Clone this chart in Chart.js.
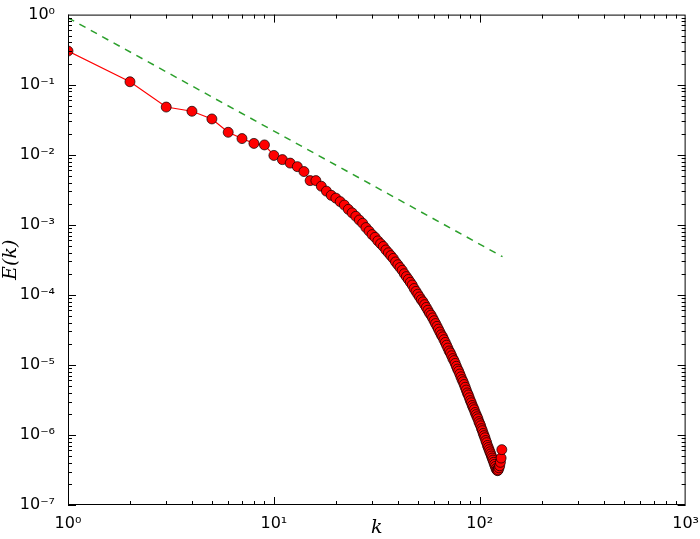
<!DOCTYPE html>
<html><head><meta charset="utf-8">
<script src="https://cdn.jsdelivr.net/npm/chart.js@4/dist/chart.umd.min.js"></script>
<style>html,body{margin:0;padding:0;background:#fff}#wrap{width:700px;height:539px}</style>
</head><body><div id="wrap"><canvas id="c"></canvas></div>
<script>
const energy = [0.302,0.110,0.0479,0.0417,0.0324,0.0209,0.0170,0.0145,0.0138,9.77e-3,
8.51e-3,7.59e-3,6.76e-3,5.75e-3,4.27e-3,4.27e-3,3.55e-3,3.02e-3,2.63e-3,2.40e-3,
2.14e-3,1.91e-3,1.66e-3,1.48e-3,1.32e-3,1.17e-3,1.05e-3,9.12e-4,8.13e-4,7.24e-4,
6.61e-4,5.89e-4,5.37e-4,4.90e-4,4.37e-4,3.98e-4,3.63e-4,3.31e-4,2.95e-4,2.69e-4,
2.45e-4,2.24e-4,2.00e-4,1.82e-4,1.66e-4,1.51e-4,1.38e-4,1.23e-4,1.12e-4,1.02e-4,
9.33e-5,8.51e-5,7.94e-5,7.24e-5,6.61e-5,6.03e-5,5.50e-5,5.13e-5,4.68e-5,4.27e-5,
3.89e-5,3.55e-5,3.24e-5,2.95e-5,2.69e-5,2.51e-5,2.29e-5,2.09e-5,1.91e-5,1.74e-5,
1.58e-5,1.48e-5,1.35e-5,1.23e-5,1.15e-5,1.05e-5,9.55e-6,8.71e-6,8.13e-6,7.41e-6,
6.76e-6,6.17e-6,5.75e-6,5.25e-6,4.79e-6,4.37e-6,3.98e-6,3.72e-6,3.39e-6,3.09e-6,
2.88e-6,2.63e-6,2.45e-6,2.29e-6,2.09e-6,1.95e-6,1.82e-6,1.70e-6,1.55e-6,1.45e-6,
1.35e-6,1.23e-6,1.15e-6,1.05e-6,9.77e-7,9.12e-7,8.32e-7,7.76e-7,7.08e-7,6.61e-7,
6.17e-7,5.75e-7,5.37e-7,5.01e-7,4.68e-7,4.37e-7,4.07e-7,3.80e-7,3.55e-7,3.31e-7,
3.16e-7,3.09e-7,3.16e-7,3.39e-7,3.63e-7,4.07e-7,4.68e-7,6.17e-7];
const refK = [1, 129];
const refE = [0.9, 3.5e-4];
const xTicks = [1, 10, 100, 1000];
const xTickLabels = ['10⁰','10¹','10²','10³'];
const yTicks = [1e-7,1e-6,1e-5,1e-4,1e-3,1e-2,1e-1,1];
const yTickLabels = ['10⁻⁷','10⁻⁶','10⁻⁵','10⁻⁴','10⁻³','10⁻²','10⁻¹','10⁰'];

const spec = energy.map((e,i)=>({x:i+1,y:e}));
const ref = refK.map((k,i)=>({x:k,y:refE[i]}));

const frame = {
  id:'frame',
  afterDraw(ch){
    const {ctx, chartArea:a, scales:{x,y}} = ch;
    ctx.save();
    ctx.strokeStyle='#000'; ctx.lineWidth=1;
    ctx.strokeRect(a.left+0.5,a.top+0.5,a.right-a.left-1,a.bottom-a.top-1);
    ctx.beginPath();
    for(let d=0; d<3; d++){
      for(let m=1;m<10;m++){
        const v=Math.pow(10,d)*m; const px=Math.round(x.getPixelForValue(v))+0.5;
        const L = m===1?8:4;
        ctx.moveTo(px,a.bottom); ctx.lineTo(px,a.bottom-L);
        ctx.moveTo(px,a.top); ctx.lineTo(px,a.top+L);
      }
    }
    for(let d=-7; d<0; d++){
      for(let m=1;m<10;m++){
        const v=Math.pow(10,d)*m; const py=Math.round(y.getPixelForValue(v))+0.5;
        const L = m===1?8:4;
        ctx.moveTo(a.left,py); ctx.lineTo(a.left+L,py);
        ctx.moveTo(a.right,py); ctx.lineTo(a.right-L,py);
      }
    }
    ctx.stroke();
    ctx.restore();
  }
};

new Chart(document.getElementById('c'),{
  type:'line',
  data:{datasets:[
    {data:ref, borderColor:'#2ca02c', borderDash:[7,6], borderWidth:1.5, pointRadius:0, fill:false, order:2},
    {data:spec, borderColor:'#ff0000', backgroundColor:'#ff0000', borderWidth:1.2,
     pointRadius:5, pointBorderColor:'#000', pointBackgroundColor:'#ff0000', pointBorderWidth:0.7, fill:false, order:1}
  ]},
  plugins:[frame],
  options:{
    responsive:true, maintainAspectRatio:false, animation:false,
    layout:{padding:{top:10,right:14,left:0,bottom:0}},
    plugins:{legend:{display:false},tooltip:{enabled:false}},
    scales:{
      x:{type:'logarithmic', min:1, max:1000,
        afterBuildTicks:s=>{s.ticks=xTicks.map(v=>({value:v}));},
        afterFit:s=>{s.height=34;},
        ticks:{autoSkip:false, maxRotation:0, color:'#000', font:{family:'DejaVu Sans',size:16}, padding:1,
          callback:(v)=>xTickLabels[xTicks.indexOf(v)]},
        grid:{display:false}, border:{display:false},
        title:{display:true, text:'k', color:'#000', padding:{top:-4,bottom:0}, font:{family:'DejaVu Serif',style:'italic',size:19}}
      },
      y:{type:'logarithmic', min:1e-7, max:1,
        afterBuildTicks:s=>{s.ticks=yTicks.map(v=>({value:v}));},
        afterFit:s=>{s.width=68;},
        ticks:{autoSkip:false, color:'#000', font:{family:'DejaVu Sans',size:16}, padding:5,
          callback:(v)=>{const i=yTicks.findIndex(t=>Math.abs(Math.log10(t)-Math.log10(v))<1e-6);return i<0?'':yTickLabels[i];}},
        grid:{display:false}, border:{display:false},
        title:{display:true, text:'E(k)', color:'#000', padding:{top:0,bottom:0}, font:{family:'DejaVu Serif',style:'italic',size:19}}
      }
    }
  }
});
</script></body></html>
